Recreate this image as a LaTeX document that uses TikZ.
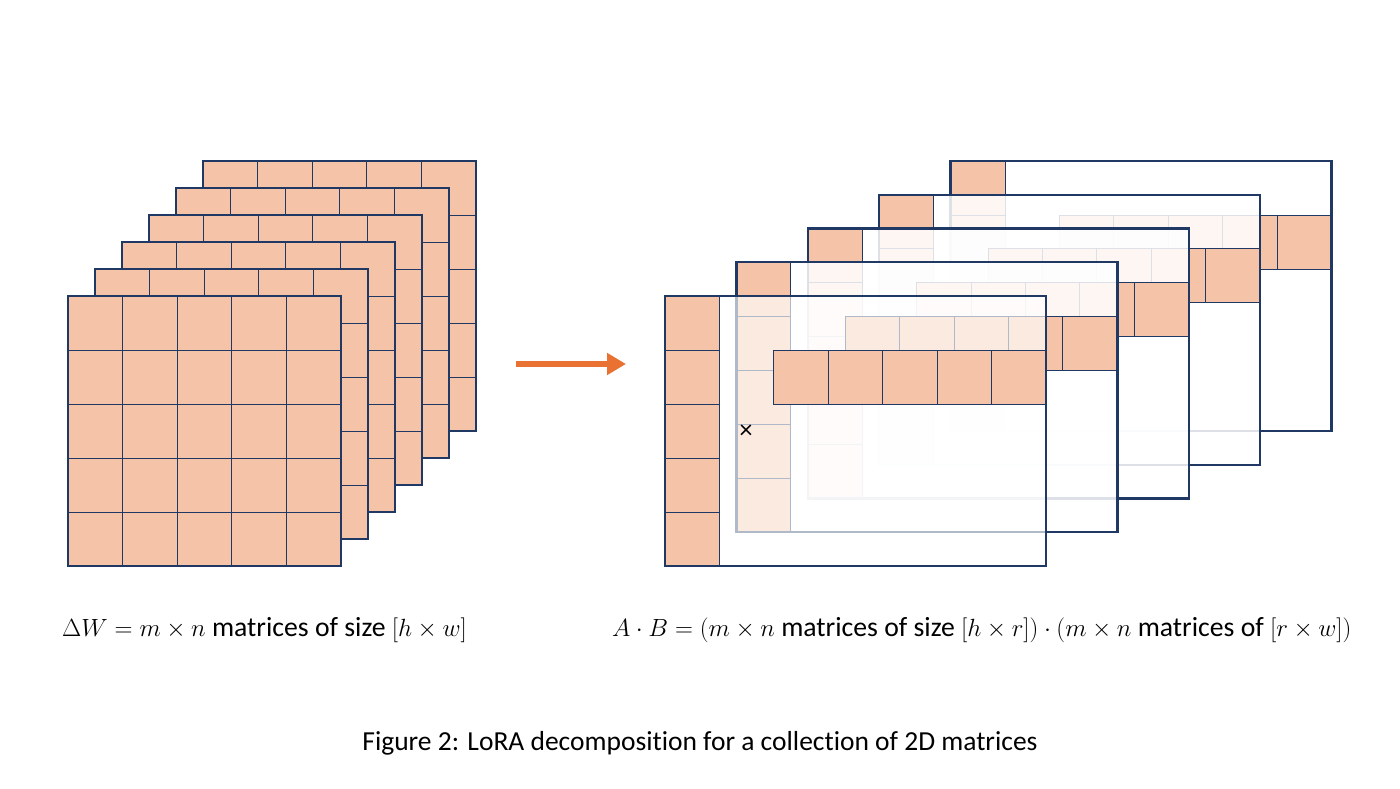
\documentclass[tikz,border=0pt]{standalone}
\usepackage{fontspec}
\setmainfont[Ligatures={NoCommon}]{Carlito}
\usetikzlibrary{arrows.meta}
\definecolor{peach}{HTML}{F5C4A8}
\definecolor{navy}{HTML}{1F3864}
\definecolor{orng}{HTML}{E97132}
\tikzset{
  frame/.style={draw=navy, line width=2.4pt, line join=miter},
  gridline/.style={draw=navy, line width=1pt},
  cell/.style={fill=peach, draw=navy, line width=1pt},
  lbl/.style={inner sep=0pt, font=\fontsize{27.7}{32}\selectfont},
}
\begin{document}
\begin{tikzpicture}[x=1pt,y=-1pt]
\useasboundingbox (0,0) rectangle (1400,788);
\fill[white] (0,0) rectangle (1400,788);
% left stack
\foreach \k in {5,4,...,0}{
  \pgfmathsetmacro\xo{68+27*\k}
  \pgfmathsetmacro\yo{296-27*\k}
  \fill[peach] (\xo,\yo) rectangle ++(273,270);
  \foreach \i in {1,...,4}{
    \draw[gridline] ({\xo+54.6*\i},\yo) -- ++(0,270);
    \draw[gridline] (\xo,{\yo+54*\i}) -- ++(273,0);
  }
  \draw[frame] (\xo,\yo) rectangle ++(273,270);
}
% right stack
\foreach \k/\op in {4/0.85,3/0.85,2/0.85,1/0.85,0/0.65}{
  \pgfmathsetmacro\xo{665+71.4*\k}
  \pgfmathsetmacro\yo{296-33.75*\k}
  \fill[white, fill opacity=\op] (\xo,\yo) rectangle ++(381,270);
  \foreach \j in {0,...,4}{
    \filldraw[cell] ({\xo},{\yo+54*\j}) rectangle ++(54.43,54);
    \filldraw[cell] ({\xo+108.86+54.43*\j},{\yo+54}) rectangle ++(54.43,54);
  }
  \draw[frame] (\xo,\yo) rectangle ++(381,270);
}
\node[inner sep=0pt, font=\fontsize{26}{30}\selectfont] (xmark) at (746,432) {×};
% arrow
\coordinate (arrS) at (516,364);
\coordinate (arrE) at (626,364);
\draw[orng, line width=6.5pt, -{Triangle[length=19pt,width=21pt]}] (arrS) -- (arrE);
% formulas
\node[lbl, anchor=base west] (fL) at (62,636) {$\Delta W = m \times n$ matrices of size $[h \times w]$};
\node[lbl, anchor=base west] (fR) at (612,636) {$A\cdot B = (m \times n$ matrices of size $[h \times r])\cdot(m \times n$ matrices of $[r \times w])$};
\node[inner sep=0pt, anchor=base, font=\fontsize{27.5}{32}\selectfont] (cap) at (700,750) {Figure 2: LoRA decomposition for a collection of 2D matrices};
\end{tikzpicture}
\end{document}
